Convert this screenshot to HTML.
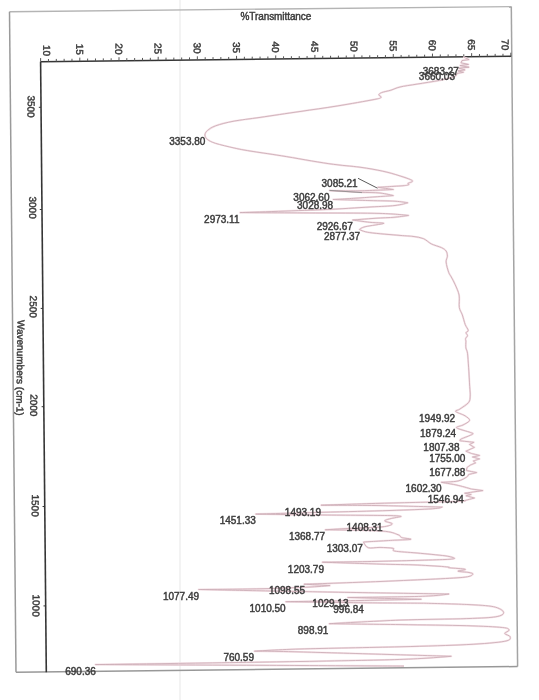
<!DOCTYPE html>
<html><head><meta charset="utf-8"><style>
html,body{margin:0;padding:0;background:#fff;width:539px;height:700px;overflow:hidden}
svg{display:block}
text{font-family:"Liberation Sans",sans-serif}
</style></head><body>
<svg width="539" height="700" viewBox="0 0 539 700">
<defs><filter id="bl" x="-5%" y="-5%" width="110%" height="110%"><feGaussianBlur stdDeviation="0.5"/></filter></defs>
<rect width="539" height="700" fill="#fff"/>
<g filter="url(#bl)">
<line x1="180" y1="0" x2="180" y2="700" stroke="#f3f3f3" stroke-width="2"/><line x1="9.50" y1="11.70" x2="511.30" y2="6.60" stroke="#b4b4b4" stroke-width="1.4"/><line x1="511.30" y1="6.60" x2="517.60" y2="666.50" stroke="#a4a4a4" stroke-width="1.5"/><line x1="517.60" y1="666.50" x2="16.00" y2="672.30" stroke="#989898" stroke-width="1.5"/><line x1="16.00" y1="672.30" x2="9.50" y2="11.70" stroke="#9a9a9a" stroke-width="1.5"/><line x1="40.60" y1="61.70" x2="511.20" y2="56.30" stroke="#363636" stroke-width="1.6"/><line x1="40.60" y1="61.70" x2="46.30" y2="672.30" stroke="#363636" stroke-width="1.6"/><line x1="40.60" y1="61.70" x2="40.64" y2="58.10" stroke="#555" stroke-width="1.0"/><line x1="48.44" y1="61.61" x2="48.47" y2="59.01" stroke="#555" stroke-width="1.0"/><line x1="56.27" y1="61.52" x2="56.30" y2="58.92" stroke="#555" stroke-width="1.0"/><line x1="64.11" y1="61.43" x2="64.14" y2="58.83" stroke="#555" stroke-width="1.0"/><line x1="71.95" y1="61.34" x2="71.98" y2="58.74" stroke="#555" stroke-width="1.0"/><line x1="79.78" y1="61.25" x2="79.82" y2="57.65" stroke="#555" stroke-width="1.0"/><line x1="87.62" y1="61.16" x2="87.65" y2="58.56" stroke="#555" stroke-width="1.0"/><line x1="95.46" y1="61.07" x2="95.49" y2="58.47" stroke="#555" stroke-width="1.0"/><line x1="103.29" y1="60.98" x2="103.32" y2="58.38" stroke="#555" stroke-width="1.0"/><line x1="111.13" y1="60.89" x2="111.16" y2="58.29" stroke="#555" stroke-width="1.0"/><line x1="118.97" y1="60.80" x2="119.01" y2="57.20" stroke="#555" stroke-width="1.0"/><line x1="126.80" y1="60.71" x2="126.83" y2="58.11" stroke="#555" stroke-width="1.0"/><line x1="134.64" y1="60.62" x2="134.67" y2="58.02" stroke="#555" stroke-width="1.0"/><line x1="142.48" y1="60.53" x2="142.51" y2="57.93" stroke="#555" stroke-width="1.0"/><line x1="150.31" y1="60.44" x2="150.34" y2="57.84" stroke="#555" stroke-width="1.0"/><line x1="158.15" y1="60.35" x2="158.19" y2="56.75" stroke="#555" stroke-width="1.0"/><line x1="165.99" y1="60.26" x2="166.02" y2="57.66" stroke="#555" stroke-width="1.0"/><line x1="173.82" y1="60.17" x2="173.85" y2="57.57" stroke="#555" stroke-width="1.0"/><line x1="181.66" y1="60.08" x2="181.69" y2="57.48" stroke="#555" stroke-width="1.0"/><line x1="189.50" y1="59.99" x2="189.53" y2="57.39" stroke="#555" stroke-width="1.0"/><line x1="197.33" y1="59.90" x2="197.37" y2="56.30" stroke="#555" stroke-width="1.0"/><line x1="205.17" y1="59.81" x2="205.20" y2="57.21" stroke="#555" stroke-width="1.0"/><line x1="213.01" y1="59.72" x2="213.04" y2="57.12" stroke="#555" stroke-width="1.0"/><line x1="220.84" y1="59.63" x2="220.87" y2="57.03" stroke="#555" stroke-width="1.0"/><line x1="228.68" y1="59.54" x2="228.71" y2="56.94" stroke="#555" stroke-width="1.0"/><line x1="236.52" y1="59.45" x2="236.56" y2="55.85" stroke="#555" stroke-width="1.0"/><line x1="244.35" y1="59.36" x2="244.38" y2="56.76" stroke="#555" stroke-width="1.0"/><line x1="252.19" y1="59.27" x2="252.22" y2="56.67" stroke="#555" stroke-width="1.0"/><line x1="260.03" y1="59.18" x2="260.06" y2="56.58" stroke="#555" stroke-width="1.0"/><line x1="267.86" y1="59.09" x2="267.89" y2="56.49" stroke="#555" stroke-width="1.0"/><line x1="275.70" y1="59.00" x2="275.74" y2="55.40" stroke="#555" stroke-width="1.0"/><line x1="283.54" y1="58.91" x2="283.57" y2="56.31" stroke="#555" stroke-width="1.0"/><line x1="291.37" y1="58.82" x2="291.40" y2="56.22" stroke="#555" stroke-width="1.0"/><line x1="299.21" y1="58.73" x2="299.24" y2="56.13" stroke="#555" stroke-width="1.0"/><line x1="307.05" y1="58.64" x2="307.08" y2="56.04" stroke="#555" stroke-width="1.0"/><line x1="314.88" y1="58.55" x2="314.92" y2="54.95" stroke="#555" stroke-width="1.0"/><line x1="322.72" y1="58.46" x2="322.75" y2="55.86" stroke="#555" stroke-width="1.0"/><line x1="330.56" y1="58.37" x2="330.59" y2="55.77" stroke="#555" stroke-width="1.0"/><line x1="338.39" y1="58.28" x2="338.42" y2="55.68" stroke="#555" stroke-width="1.0"/><line x1="346.23" y1="58.19" x2="346.26" y2="55.59" stroke="#555" stroke-width="1.0"/><line x1="354.07" y1="58.10" x2="354.11" y2="54.50" stroke="#555" stroke-width="1.0"/><line x1="361.90" y1="58.01" x2="361.93" y2="55.41" stroke="#555" stroke-width="1.0"/><line x1="369.74" y1="57.92" x2="369.77" y2="55.32" stroke="#555" stroke-width="1.0"/><line x1="377.58" y1="57.83" x2="377.61" y2="55.23" stroke="#555" stroke-width="1.0"/><line x1="385.41" y1="57.74" x2="385.44" y2="55.14" stroke="#555" stroke-width="1.0"/><line x1="393.25" y1="57.65" x2="393.29" y2="54.05" stroke="#555" stroke-width="1.0"/><line x1="401.09" y1="57.56" x2="401.12" y2="54.96" stroke="#555" stroke-width="1.0"/><line x1="408.92" y1="57.47" x2="408.95" y2="54.87" stroke="#555" stroke-width="1.0"/><line x1="416.76" y1="57.38" x2="416.79" y2="54.78" stroke="#555" stroke-width="1.0"/><line x1="424.60" y1="57.29" x2="424.63" y2="54.69" stroke="#555" stroke-width="1.0"/><line x1="432.43" y1="57.20" x2="432.47" y2="53.60" stroke="#555" stroke-width="1.0"/><line x1="440.27" y1="57.11" x2="440.30" y2="54.51" stroke="#555" stroke-width="1.0"/><line x1="448.11" y1="57.02" x2="448.14" y2="54.42" stroke="#555" stroke-width="1.0"/><line x1="455.94" y1="56.93" x2="455.97" y2="54.33" stroke="#555" stroke-width="1.0"/><line x1="463.78" y1="56.84" x2="463.81" y2="54.24" stroke="#555" stroke-width="1.0"/><line x1="471.62" y1="56.75" x2="471.66" y2="53.15" stroke="#555" stroke-width="1.0"/><line x1="479.45" y1="56.66" x2="479.48" y2="54.06" stroke="#555" stroke-width="1.0"/><line x1="487.29" y1="56.57" x2="487.32" y2="53.97" stroke="#555" stroke-width="1.0"/><line x1="495.13" y1="56.48" x2="495.16" y2="53.88" stroke="#555" stroke-width="1.0"/><line x1="502.96" y1="56.39" x2="502.99" y2="53.79" stroke="#555" stroke-width="1.0"/><line x1="510.80" y1="56.30" x2="510.84" y2="52.70" stroke="#555" stroke-width="1.0"/><line x1="41.03" y1="107.30" x2="38.83" y2="107.32" stroke="#363636" stroke-width="1.0"/><line x1="41.98" y1="209.50" x2="39.78" y2="209.52" stroke="#363636" stroke-width="1.0"/><line x1="42.90" y1="308.40" x2="40.70" y2="308.42" stroke="#363636" stroke-width="1.0"/><line x1="43.82" y1="406.70" x2="41.62" y2="406.72" stroke="#363636" stroke-width="1.0"/><line x1="44.75" y1="506.50" x2="42.55" y2="506.52" stroke="#363636" stroke-width="1.0"/><line x1="45.68" y1="605.90" x2="43.48" y2="605.92" stroke="#363636" stroke-width="1.0"/>
<path d="M463.3,56.9 L469.0,59.6 L462.0,60.6 L461.0,62.8 L468.5,64.4 L460.0,65.6 L469.0,67.2 L459.0,68.2 L465.0,69.9 L458.0,70.9 L463.5,72.3 L457.0,73.4 L457.0,73.4 C456.5,74.0 457.1,75.5 454.2,76.7 C451.3,77.9 445.6,79.2 439.4,80.4 C433.2,81.6 423.7,83.0 417.1,84.1 C410.5,85.2 404.4,86.0 400.0,87.0 C395.6,88.0 394.0,89.3 390.9,90.2 C387.8,91.1 383.6,91.8 381.6,92.6 C379.6,93.4 378.9,94.0 378.8,94.8 C378.7,95.6 381.8,96.6 381.0,97.4 C380.2,98.2 381.5,98.1 374.2,99.5 C366.9,100.9 349.5,104.0 337.1,106.0 C324.7,108.0 312.9,109.6 300.0,111.5 C287.1,113.4 271.0,115.8 260.0,117.4 C249.0,119.0 241.6,119.7 234.2,121.1 C226.8,122.5 220.1,124.2 215.7,125.8 C211.2,127.4 209.3,129.0 207.5,130.5 C205.7,132.0 204.9,133.5 204.9,135.0 C204.9,136.5 205.7,138.1 207.5,139.5 C209.3,140.9 211.2,142.0 215.7,143.4 C220.1,144.8 228.5,146.7 234.2,148.0 C239.9,149.3 242.1,149.7 250.0,151.0 C257.9,152.3 268.4,153.7 281.5,155.8 C294.6,157.9 315.8,161.8 328.9,163.7 C342.0,165.6 351.1,166.0 360.0,167.2 C368.9,168.4 375.8,169.7 382.3,171.1 C388.8,172.5 394.0,174.0 399.0,175.6 C404.0,177.2 410.8,179.3 412.3,180.6 C413.8,181.9 408.4,182.8 407.9,183.4 C407.3,184.1 409.6,184.1 409.0,184.5 C408.4,184.9 408.0,185.2 404.5,185.6 C401.0,186.0 392.2,186.4 387.8,186.7 C383.4,187.0 377.8,187.3 377.8,187.3 C377.8,187.3 393.4,189.5 393.4,189.5 C393.4,189.5 370.6,190.6 360.0,190.8 C349.4,191.0 329.5,190.6 329.5,190.6 C329.5,190.6 351.6,191.9 360.0,192.3 C368.4,192.7 374.4,192.4 380.0,193.0 C385.6,193.6 393.4,195.6 393.4,195.6 C393.4,195.6 370.1,197.2 360.0,197.9 C349.9,198.6 333.0,199.5 333.0,199.5 C333.0,199.5 359.7,200.3 370.0,200.6 C380.3,200.9 388.7,200.8 395.0,201.2 C401.3,201.6 407.8,202.8 407.8,202.8 C407.8,202.8 401.3,204.8 395.0,205.5 C388.7,206.2 382.5,206.3 370.0,207.0 C357.5,207.7 341.7,208.9 320.0,209.8 C298.3,210.7 240.0,212.6 240.0,212.6 C240.0,212.6 296.7,212.9 320.0,213.0 C343.3,213.1 365.2,213.0 380.0,213.4 C394.8,213.8 408.6,215.4 408.6,215.4 C408.6,215.4 400.6,216.7 395.0,217.2 C389.4,217.7 382.1,217.8 375.0,218.3 C367.9,218.8 352.6,220.0 352.6,220.0 C352.6,220.0 364.5,221.7 369.7,222.3 C374.9,222.9 384.6,222.7 383.8,223.4 C383.1,224.1 369.2,225.7 365.2,226.7 C361.1,227.7 359.5,229.5 359.5,229.5 C359.5,229.5 362.9,231.6 369.7,232.6 C376.4,233.6 392.8,234.8 400.0,235.4 C407.2,236.0 409.1,235.9 413.0,236.4 C416.9,236.9 420.4,237.4 423.4,238.6 C426.4,239.8 428.2,242.3 431.2,243.8 C434.2,245.3 439.1,246.5 441.6,247.7 C444.1,248.9 445.1,249.6 446.1,251.0 C447.1,252.4 447.4,254.4 447.4,256.2 C447.4,258.0 445.9,259.3 446.1,262.0 C446.3,264.7 447.8,269.9 448.7,272.4 C449.6,274.9 450.2,274.9 451.3,277.0 C452.4,279.1 453.9,281.7 455.2,284.7 C456.5,287.7 458.4,291.3 459.1,295.1 C459.8,298.9 458.8,304.1 459.3,307.4 C459.8,310.7 461.3,311.9 462.3,314.8 C463.3,317.7 464.2,321.9 465.2,324.5 C466.2,327.1 468.1,329.0 468.2,330.4 C468.3,331.8 466.1,331.8 466.0,332.7 C465.9,333.6 467.6,334.6 467.5,335.6 C467.4,336.6 465.9,337.6 465.6,338.6 C465.3,339.6 465.8,339.8 465.9,341.4 C465.9,342.9 465.6,345.9 465.9,347.9 C466.2,349.9 467.1,350.0 467.5,353.2 C467.9,356.4 468.2,361.7 468.6,367.2 C469.0,372.7 469.4,381.6 469.7,386.4 C470.0,391.2 470.4,393.4 470.2,396.1 C470.0,398.8 470.3,400.4 468.6,402.5 C466.9,404.6 462.1,407.5 460.0,409.0 C457.9,410.5 454.9,410.4 455.7,411.5 C456.5,412.6 462.7,414.3 465.0,415.8 C467.3,417.3 469.9,418.9 469.6,420.4 C469.3,421.9 465.2,423.8 463.0,425.0 C460.8,426.2 455.4,426.6 456.6,427.8 C457.9,429.1 467.9,431.4 470.5,432.5 C473.1,433.6 473.9,433.2 472.4,434.3 C470.8,435.4 463.3,437.9 461.2,439.0 C459.1,440.1 460.0,440.8 460.0,440.8 C460.0,440.8 473.9,442.3 473.9,442.3 C473.9,442.3 469.5,444.5 469.5,444.5 C469.5,444.5 474.4,447.4 474.4,447.4 C474.4,447.4 465.9,451.2 465.9,451.2 C465.9,451.2 471.5,453.5 471.5,453.5 C471.5,453.5 479.6,455.4 479.6,455.4 C479.6,455.4 472.5,457.0 472.5,457.0 C472.5,457.0 479.6,458.9 479.6,458.9 C479.6,458.9 473.3,461.0 473.3,461.0 C473.3,461.0 475.6,462.9 475.6,462.9 C475.6,462.9 470.5,465.0 470.5,465.0 C470.5,465.0 467.0,467.5 467.0,467.5 C467.0,467.5 466.4,470.5 466.4,470.5 C466.4,470.5 476.7,472.6 476.7,472.6 C476.7,472.6 468.5,474.5 468.5,474.5 C468.5,474.5 468.4,475.9 466.7,477.0 C464.9,478.1 462.2,480.1 458.0,481.0 C453.8,481.9 441.2,482.3 441.2,482.3 C441.2,482.3 453.2,484.3 458.2,485.4 C463.2,486.5 471.2,489.0 471.2,489.0 C471.2,489.0 482.9,490.6 482.9,490.6 C482.9,490.6 464.7,493.2 464.7,493.2 C464.7,493.2 471.2,494.5 471.2,494.5 C471.2,494.5 466.0,495.8 466.0,495.8 C466.0,495.8 474.5,498.0 474.5,498.0 C474.5,498.0 464.7,500.6 464.7,500.6 C464.7,500.6 469.1,501.1 455.0,501.5 C440.9,501.9 402.3,502.7 380.0,503.3 C357.7,503.9 321.0,505.2 321.0,505.2 C321.0,505.2 359.8,505.3 380.0,505.6 C400.2,505.9 442.3,507.1 442.3,507.1 C442.3,507.1 441.0,508.2 432.3,508.8 C423.6,509.4 408.4,509.9 390.0,510.5 C371.6,511.1 344.4,511.7 322.0,512.3 C299.6,512.9 255.7,514.1 255.7,514.1 C255.7,514.1 300.5,514.8 322.9,515.0 C345.3,515.2 377.0,515.3 390.0,515.6 C403.0,515.9 401.1,516.6 401.1,516.6 C401.1,516.6 392.7,518.1 390.0,518.8 C387.3,519.5 384.4,520.1 384.8,521.0 C385.2,521.9 392.8,522.9 392.3,523.9 C391.8,524.9 389.1,526.1 381.9,526.9 C374.6,527.6 358.2,527.9 348.8,528.4 C339.4,528.9 325.2,529.8 325.2,529.8 C325.2,529.8 369.1,530.2 381.2,531.0 C393.3,531.8 394.6,533.6 398.0,534.7 C401.4,535.8 399.5,536.7 401.6,537.5 C403.8,538.3 412.1,538.8 410.9,539.3 C409.7,539.8 402.1,539.8 394.2,540.2 C386.3,540.7 363.5,542.0 363.5,542.0 C363.5,542.0 365.4,546.8 368.2,547.7 C370.9,548.6 375.9,547.3 380.0,547.4 C384.1,547.5 390.5,547.7 393.0,548.3 C395.5,548.9 390.8,550.3 394.8,551.1 C398.8,551.9 408.7,552.2 417.1,553.0 C425.5,553.8 438.8,555.0 445.0,555.8 C451.2,556.6 454.2,558.0 454.2,558.0 C454.2,558.0 457.4,559.0 445.0,559.5 C432.6,560.0 400.4,560.8 380.0,561.3 C359.6,561.8 322.3,562.2 322.3,562.2 C322.3,562.2 364.2,563.6 380.0,564.1 C395.8,564.6 406.0,564.5 417.1,565.0 C428.2,565.5 441.4,566.4 446.8,566.9 C452.2,567.4 446.5,567.4 449.6,567.8 C452.7,568.2 463.9,568.7 465.3,569.3 C466.7,569.9 457.4,570.7 458.0,571.2 C458.6,571.7 466.5,572.0 469.0,572.5 C471.5,573.0 473.4,573.5 472.8,574.3 C472.2,575.1 471.5,576.3 465.3,577.1 C459.1,577.9 449.9,578.3 435.7,579.0 C421.5,579.7 401.9,580.6 380.0,581.5 C358.1,582.4 304.0,584.2 304.0,584.2 C304.0,584.2 330.0,585.6 330.0,585.6 C330.0,585.6 321.7,586.5 310.0,587.0 C298.3,587.5 278.6,588.4 260.0,588.8 C241.4,589.2 198.6,589.5 198.6,589.5 C198.6,589.5 262.3,590.9 304.0,591.6 C345.7,592.4 449.0,594.0 449.0,594.0 C449.0,594.0 439.2,595.7 422.3,596.3 C405.4,596.9 347.7,597.5 347.7,597.5 C347.7,597.5 421.3,599.3 421.3,599.3 C421.3,599.3 382.6,600.1 360.0,600.5 C337.4,600.9 285.7,601.7 285.7,601.7 C285.7,601.7 340.4,602.5 363.4,602.8 C386.4,603.0 423.5,603.2 423.5,603.2 C423.5,603.2 455.1,603.9 466.8,604.5 C478.5,605.1 487.4,605.4 493.5,606.7 C499.6,608.0 503.2,610.6 503.6,612.3 C504.0,614.0 501.9,615.8 495.8,616.8 C489.7,617.8 482.8,618.0 466.8,618.6 C450.8,619.2 422.9,619.2 400.0,620.1 C377.1,621.0 329.1,623.7 329.1,623.7 C329.1,623.7 377.1,624.3 400.0,624.6 C422.9,624.9 449.7,625.2 466.8,625.7 C483.9,626.2 495.3,626.8 502.4,627.5 C509.4,628.2 508.7,629.1 509.1,630.1 C509.5,631.1 504.5,632.4 504.7,633.5 C504.9,634.6 510.2,635.5 510.2,636.8 C510.2,638.1 511.9,640.0 504.7,641.3 C497.5,642.6 484.2,643.7 466.8,644.6 C449.4,645.5 427.8,646.1 400.0,646.8 C372.2,647.5 324.3,648.3 300.0,649.0 C275.7,649.7 254.3,651.2 254.3,651.2 C254.3,651.2 267.2,651.0 300.0,651.9 C332.8,652.8 451.3,656.3 451.3,656.3 C451.3,656.3 429.1,658.4 403.9,659.3 C378.7,660.2 351.4,660.6 300.0,661.5 C248.6,662.4 95.3,664.6 95.3,664.6 C95.3,664.6 248.6,665.2 300.0,665.5 C351.4,665.8 386.7,666.0 404.0,666.1" fill="none" stroke="#f6e3e8" stroke-width="2.0" stroke-linejoin="round"/><path d="M463.3,56.9 L469.0,59.6 L462.0,60.6 L461.0,62.8 L468.5,64.4 L460.0,65.6 L469.0,67.2 L459.0,68.2 L465.0,69.9 L458.0,70.9 L463.5,72.3 L457.0,73.4 L457.0,73.4 C456.5,74.0 457.1,75.5 454.2,76.7 C451.3,77.9 445.6,79.2 439.4,80.4 C433.2,81.6 423.7,83.0 417.1,84.1 C410.5,85.2 404.4,86.0 400.0,87.0 C395.6,88.0 394.0,89.3 390.9,90.2 C387.8,91.1 383.6,91.8 381.6,92.6 C379.6,93.4 378.9,94.0 378.8,94.8 C378.7,95.6 381.8,96.6 381.0,97.4 C380.2,98.2 381.5,98.1 374.2,99.5 C366.9,100.9 349.5,104.0 337.1,106.0 C324.7,108.0 312.9,109.6 300.0,111.5 C287.1,113.4 271.0,115.8 260.0,117.4 C249.0,119.0 241.6,119.7 234.2,121.1 C226.8,122.5 220.1,124.2 215.7,125.8 C211.2,127.4 209.3,129.0 207.5,130.5 C205.7,132.0 204.9,133.5 204.9,135.0 C204.9,136.5 205.7,138.1 207.5,139.5 C209.3,140.9 211.2,142.0 215.7,143.4 C220.1,144.8 228.5,146.7 234.2,148.0 C239.9,149.3 242.1,149.7 250.0,151.0 C257.9,152.3 268.4,153.7 281.5,155.8 C294.6,157.9 315.8,161.8 328.9,163.7 C342.0,165.6 351.1,166.0 360.0,167.2 C368.9,168.4 375.8,169.7 382.3,171.1 C388.8,172.5 394.0,174.0 399.0,175.6 C404.0,177.2 410.8,179.3 412.3,180.6 C413.8,181.9 408.4,182.8 407.9,183.4 C407.3,184.1 409.6,184.1 409.0,184.5 C408.4,184.9 408.0,185.2 404.5,185.6 C401.0,186.0 392.2,186.4 387.8,186.7 C383.4,187.0 377.8,187.3 377.8,187.3 C377.8,187.3 393.4,189.5 393.4,189.5 C393.4,189.5 370.6,190.6 360.0,190.8 C349.4,191.0 329.5,190.6 329.5,190.6 C329.5,190.6 351.6,191.9 360.0,192.3 C368.4,192.7 374.4,192.4 380.0,193.0 C385.6,193.6 393.4,195.6 393.4,195.6 C393.4,195.6 370.1,197.2 360.0,197.9 C349.9,198.6 333.0,199.5 333.0,199.5 C333.0,199.5 359.7,200.3 370.0,200.6 C380.3,200.9 388.7,200.8 395.0,201.2 C401.3,201.6 407.8,202.8 407.8,202.8 C407.8,202.8 401.3,204.8 395.0,205.5 C388.7,206.2 382.5,206.3 370.0,207.0 C357.5,207.7 341.7,208.9 320.0,209.8 C298.3,210.7 240.0,212.6 240.0,212.6 C240.0,212.6 296.7,212.9 320.0,213.0 C343.3,213.1 365.2,213.0 380.0,213.4 C394.8,213.8 408.6,215.4 408.6,215.4 C408.6,215.4 400.6,216.7 395.0,217.2 C389.4,217.7 382.1,217.8 375.0,218.3 C367.9,218.8 352.6,220.0 352.6,220.0 C352.6,220.0 364.5,221.7 369.7,222.3 C374.9,222.9 384.6,222.7 383.8,223.4 C383.1,224.1 369.2,225.7 365.2,226.7 C361.1,227.7 359.5,229.5 359.5,229.5 C359.5,229.5 362.9,231.6 369.7,232.6 C376.4,233.6 392.8,234.8 400.0,235.4 C407.2,236.0 409.1,235.9 413.0,236.4 C416.9,236.9 420.4,237.4 423.4,238.6 C426.4,239.8 428.2,242.3 431.2,243.8 C434.2,245.3 439.1,246.5 441.6,247.7 C444.1,248.9 445.1,249.6 446.1,251.0 C447.1,252.4 447.4,254.4 447.4,256.2 C447.4,258.0 445.9,259.3 446.1,262.0 C446.3,264.7 447.8,269.9 448.7,272.4 C449.6,274.9 450.2,274.9 451.3,277.0 C452.4,279.1 453.9,281.7 455.2,284.7 C456.5,287.7 458.4,291.3 459.1,295.1 C459.8,298.9 458.8,304.1 459.3,307.4 C459.8,310.7 461.3,311.9 462.3,314.8 C463.3,317.7 464.2,321.9 465.2,324.5 C466.2,327.1 468.1,329.0 468.2,330.4 C468.3,331.8 466.1,331.8 466.0,332.7 C465.9,333.6 467.6,334.6 467.5,335.6 C467.4,336.6 465.9,337.6 465.6,338.6 C465.3,339.6 465.8,339.8 465.9,341.4 C465.9,342.9 465.6,345.9 465.9,347.9 C466.2,349.9 467.1,350.0 467.5,353.2 C467.9,356.4 468.2,361.7 468.6,367.2 C469.0,372.7 469.4,381.6 469.7,386.4 C470.0,391.2 470.4,393.4 470.2,396.1 C470.0,398.8 470.3,400.4 468.6,402.5 C466.9,404.6 462.1,407.5 460.0,409.0 C457.9,410.5 454.9,410.4 455.7,411.5 C456.5,412.6 462.7,414.3 465.0,415.8 C467.3,417.3 469.9,418.9 469.6,420.4 C469.3,421.9 465.2,423.8 463.0,425.0 C460.8,426.2 455.4,426.6 456.6,427.8 C457.9,429.1 467.9,431.4 470.5,432.5 C473.1,433.6 473.9,433.2 472.4,434.3 C470.8,435.4 463.3,437.9 461.2,439.0 C459.1,440.1 460.0,440.8 460.0,440.8 C460.0,440.8 473.9,442.3 473.9,442.3 C473.9,442.3 469.5,444.5 469.5,444.5 C469.5,444.5 474.4,447.4 474.4,447.4 C474.4,447.4 465.9,451.2 465.9,451.2 C465.9,451.2 471.5,453.5 471.5,453.5 C471.5,453.5 479.6,455.4 479.6,455.4 C479.6,455.4 472.5,457.0 472.5,457.0 C472.5,457.0 479.6,458.9 479.6,458.9 C479.6,458.9 473.3,461.0 473.3,461.0 C473.3,461.0 475.6,462.9 475.6,462.9 C475.6,462.9 470.5,465.0 470.5,465.0 C470.5,465.0 467.0,467.5 467.0,467.5 C467.0,467.5 466.4,470.5 466.4,470.5 C466.4,470.5 476.7,472.6 476.7,472.6 C476.7,472.6 468.5,474.5 468.5,474.5 C468.5,474.5 468.4,475.9 466.7,477.0 C464.9,478.1 462.2,480.1 458.0,481.0 C453.8,481.9 441.2,482.3 441.2,482.3 C441.2,482.3 453.2,484.3 458.2,485.4 C463.2,486.5 471.2,489.0 471.2,489.0 C471.2,489.0 482.9,490.6 482.9,490.6 C482.9,490.6 464.7,493.2 464.7,493.2 C464.7,493.2 471.2,494.5 471.2,494.5 C471.2,494.5 466.0,495.8 466.0,495.8 C466.0,495.8 474.5,498.0 474.5,498.0 C474.5,498.0 464.7,500.6 464.7,500.6 C464.7,500.6 469.1,501.1 455.0,501.5 C440.9,501.9 402.3,502.7 380.0,503.3 C357.7,503.9 321.0,505.2 321.0,505.2 C321.0,505.2 359.8,505.3 380.0,505.6 C400.2,505.9 442.3,507.1 442.3,507.1 C442.3,507.1 441.0,508.2 432.3,508.8 C423.6,509.4 408.4,509.9 390.0,510.5 C371.6,511.1 344.4,511.7 322.0,512.3 C299.6,512.9 255.7,514.1 255.7,514.1 C255.7,514.1 300.5,514.8 322.9,515.0 C345.3,515.2 377.0,515.3 390.0,515.6 C403.0,515.9 401.1,516.6 401.1,516.6 C401.1,516.6 392.7,518.1 390.0,518.8 C387.3,519.5 384.4,520.1 384.8,521.0 C385.2,521.9 392.8,522.9 392.3,523.9 C391.8,524.9 389.1,526.1 381.9,526.9 C374.6,527.6 358.2,527.9 348.8,528.4 C339.4,528.9 325.2,529.8 325.2,529.8 C325.2,529.8 369.1,530.2 381.2,531.0 C393.3,531.8 394.6,533.6 398.0,534.7 C401.4,535.8 399.5,536.7 401.6,537.5 C403.8,538.3 412.1,538.8 410.9,539.3 C409.7,539.8 402.1,539.8 394.2,540.2 C386.3,540.7 363.5,542.0 363.5,542.0 C363.5,542.0 365.4,546.8 368.2,547.7 C370.9,548.6 375.9,547.3 380.0,547.4 C384.1,547.5 390.5,547.7 393.0,548.3 C395.5,548.9 390.8,550.3 394.8,551.1 C398.8,551.9 408.7,552.2 417.1,553.0 C425.5,553.8 438.8,555.0 445.0,555.8 C451.2,556.6 454.2,558.0 454.2,558.0 C454.2,558.0 457.4,559.0 445.0,559.5 C432.6,560.0 400.4,560.8 380.0,561.3 C359.6,561.8 322.3,562.2 322.3,562.2 C322.3,562.2 364.2,563.6 380.0,564.1 C395.8,564.6 406.0,564.5 417.1,565.0 C428.2,565.5 441.4,566.4 446.8,566.9 C452.2,567.4 446.5,567.4 449.6,567.8 C452.7,568.2 463.9,568.7 465.3,569.3 C466.7,569.9 457.4,570.7 458.0,571.2 C458.6,571.7 466.5,572.0 469.0,572.5 C471.5,573.0 473.4,573.5 472.8,574.3 C472.2,575.1 471.5,576.3 465.3,577.1 C459.1,577.9 449.9,578.3 435.7,579.0 C421.5,579.7 401.9,580.6 380.0,581.5 C358.1,582.4 304.0,584.2 304.0,584.2 C304.0,584.2 330.0,585.6 330.0,585.6 C330.0,585.6 321.7,586.5 310.0,587.0 C298.3,587.5 278.6,588.4 260.0,588.8 C241.4,589.2 198.6,589.5 198.6,589.5 C198.6,589.5 262.3,590.9 304.0,591.6 C345.7,592.4 449.0,594.0 449.0,594.0 C449.0,594.0 439.2,595.7 422.3,596.3 C405.4,596.9 347.7,597.5 347.7,597.5 C347.7,597.5 421.3,599.3 421.3,599.3 C421.3,599.3 382.6,600.1 360.0,600.5 C337.4,600.9 285.7,601.7 285.7,601.7 C285.7,601.7 340.4,602.5 363.4,602.8 C386.4,603.0 423.5,603.2 423.5,603.2 C423.5,603.2 455.1,603.9 466.8,604.5 C478.5,605.1 487.4,605.4 493.5,606.7 C499.6,608.0 503.2,610.6 503.6,612.3 C504.0,614.0 501.9,615.8 495.8,616.8 C489.7,617.8 482.8,618.0 466.8,618.6 C450.8,619.2 422.9,619.2 400.0,620.1 C377.1,621.0 329.1,623.7 329.1,623.7 C329.1,623.7 377.1,624.3 400.0,624.6 C422.9,624.9 449.7,625.2 466.8,625.7 C483.9,626.2 495.3,626.8 502.4,627.5 C509.4,628.2 508.7,629.1 509.1,630.1 C509.5,631.1 504.5,632.4 504.7,633.5 C504.9,634.6 510.2,635.5 510.2,636.8 C510.2,638.1 511.9,640.0 504.7,641.3 C497.5,642.6 484.2,643.7 466.8,644.6 C449.4,645.5 427.8,646.1 400.0,646.8 C372.2,647.5 324.3,648.3 300.0,649.0 C275.7,649.7 254.3,651.2 254.3,651.2 C254.3,651.2 267.2,651.0 300.0,651.9 C332.8,652.8 451.3,656.3 451.3,656.3 C451.3,656.3 429.1,658.4 403.9,659.3 C378.7,660.2 351.4,660.6 300.0,661.5 C248.6,662.4 95.3,664.6 95.3,664.6 C95.3,664.6 248.6,665.2 300.0,665.5 C351.4,665.8 386.7,666.0 404.0,666.1" fill="none" stroke="#cdafb8" stroke-width="0.9" stroke-linejoin="round"/>
<line x1="358" y1="178.3" x2="377.5" y2="188.2" stroke="#5a5a5a" stroke-width="1.0"/><line x1="329.5" y1="190.4" x2="362" y2="192.6" stroke="#8a8a8a" stroke-width="0.8"/>
<text x="458.90" y="75.05" font-size="10" text-anchor="end" fill="#3c3c3c" stroke="#3c3c3c" stroke-width="0.45">3683.27</text><text x="455.00" y="80.20" font-size="10" text-anchor="end" fill="#3c3c3c" stroke="#3c3c3c" stroke-width="0.45">3660.03</text><text x="205.40" y="145.35" font-size="10" text-anchor="end" fill="#3c3c3c" stroke="#3c3c3c" stroke-width="0.45">3353.80</text><text x="357.70" y="186.90" font-size="10" text-anchor="end" fill="#3c3c3c" stroke="#3c3c3c" stroke-width="0.45">3085.21</text><text x="329.50" y="200.50" font-size="10" text-anchor="end" fill="#3c3c3c" stroke="#3c3c3c" stroke-width="0.45">3062.60</text><text x="333.20" y="209.40" font-size="10" text-anchor="end" fill="#3c3c3c" stroke="#3c3c3c" stroke-width="0.45">3028.98</text><text x="239.50" y="222.75" font-size="10" text-anchor="end" fill="#3c3c3c" stroke="#3c3c3c" stroke-width="0.45">2973.11</text><text x="352.80" y="229.90" font-size="10" text-anchor="end" fill="#3c3c3c" stroke="#3c3c3c" stroke-width="0.45">2926.67</text><text x="360.20" y="240.00" font-size="10" text-anchor="end" fill="#3c3c3c" stroke="#3c3c3c" stroke-width="0.45">2877.37</text><text x="455.20" y="422.15" font-size="10" text-anchor="end" fill="#3c3c3c" stroke="#3c3c3c" stroke-width="0.45">1949.92</text><text x="456.20" y="436.55" font-size="10" text-anchor="end" fill="#3c3c3c" stroke="#3c3c3c" stroke-width="0.45">1879.24</text><text x="459.50" y="451.20" font-size="10" text-anchor="end" fill="#3c3c3c" stroke="#3c3c3c" stroke-width="0.45">1807.38</text><text x="465.40" y="461.60" font-size="10" text-anchor="end" fill="#3c3c3c" stroke="#3c3c3c" stroke-width="0.45">1755.00</text><text x="465.40" y="476.45" font-size="10" text-anchor="end" fill="#3c3c3c" stroke="#3c3c3c" stroke-width="0.45">1677.88</text><text x="441.70" y="492.00" font-size="10" text-anchor="end" fill="#3c3c3c" stroke="#3c3c3c" stroke-width="0.45">1602.30</text><text x="463.90" y="503.10" font-size="10" text-anchor="end" fill="#3c3c3c" stroke="#3c3c3c" stroke-width="0.45">1546.94</text><text x="321.00" y="515.95" font-size="10" text-anchor="end" fill="#3c3c3c" stroke="#3c3c3c" stroke-width="0.45">1493.19</text><text x="255.80" y="524.10" font-size="10" text-anchor="end" fill="#3c3c3c" stroke="#3c3c3c" stroke-width="0.45">1451.33</text><text x="382.70" y="531.10" font-size="10" text-anchor="end" fill="#3c3c3c" stroke="#3c3c3c" stroke-width="0.45">1408.31</text><text x="325.10" y="539.80" font-size="10" text-anchor="end" fill="#3c3c3c" stroke="#3c3c3c" stroke-width="0.45">1368.77</text><text x="362.80" y="551.95" font-size="10" text-anchor="end" fill="#3c3c3c" stroke="#3c3c3c" stroke-width="0.45">1303.07</text><text x="324.00" y="573.30" font-size="10" text-anchor="end" fill="#3c3c3c" stroke="#3c3c3c" stroke-width="0.45">1203.79</text><text x="305.10" y="593.80" font-size="10" text-anchor="end" fill="#3c3c3c" stroke="#3c3c3c" stroke-width="0.45">1098.55</text><text x="199.10" y="599.95" font-size="10" text-anchor="end" fill="#3c3c3c" stroke="#3c3c3c" stroke-width="0.45">1077.49</text><text x="348.50" y="607.45" font-size="10" text-anchor="end" fill="#3c3c3c" stroke="#3c3c3c" stroke-width="0.45">1029.13</text><text x="285.70" y="612.00" font-size="10" text-anchor="end" fill="#3c3c3c" stroke="#3c3c3c" stroke-width="0.45">1010.50</text><text x="363.90" y="612.75" font-size="10" text-anchor="end" fill="#3c3c3c" stroke="#3c3c3c" stroke-width="0.45">996.84</text><text x="328.40" y="634.05" font-size="10" text-anchor="end" fill="#3c3c3c" stroke="#3c3c3c" stroke-width="0.45">898.91</text><text x="254.00" y="661.45" font-size="10" text-anchor="end" fill="#3c3c3c" stroke="#3c3c3c" stroke-width="0.45">760.59</text><text x="95.80" y="674.70" font-size="10" text-anchor="end" fill="#3c3c3c" stroke="#3c3c3c" stroke-width="0.45">690.36</text>
<text transform="translate(43.30,50.50) rotate(90.6)" font-size="10" text-anchor="middle" fill="#3c3c3c" stroke="#3c3c3c" stroke-width="0.45">10</text><text transform="translate(76.18,49.35) rotate(90.6)" font-size="10" text-anchor="middle" fill="#3c3c3c" stroke="#3c3c3c" stroke-width="0.45">15</text><text transform="translate(115.37,48.90) rotate(90.6)" font-size="10" text-anchor="middle" fill="#3c3c3c" stroke="#3c3c3c" stroke-width="0.45">20</text><text transform="translate(154.55,48.45) rotate(90.6)" font-size="10" text-anchor="middle" fill="#3c3c3c" stroke="#3c3c3c" stroke-width="0.45">25</text><text transform="translate(193.73,48.00) rotate(90.6)" font-size="10" text-anchor="middle" fill="#3c3c3c" stroke="#3c3c3c" stroke-width="0.45">30</text><text transform="translate(232.92,47.55) rotate(90.6)" font-size="10" text-anchor="middle" fill="#3c3c3c" stroke="#3c3c3c" stroke-width="0.45">35</text><text transform="translate(272.10,47.10) rotate(90.6)" font-size="10" text-anchor="middle" fill="#3c3c3c" stroke="#3c3c3c" stroke-width="0.45">40</text><text transform="translate(311.28,46.65) rotate(90.6)" font-size="10" text-anchor="middle" fill="#3c3c3c" stroke="#3c3c3c" stroke-width="0.45">45</text><text transform="translate(350.47,46.20) rotate(90.6)" font-size="10" text-anchor="middle" fill="#3c3c3c" stroke="#3c3c3c" stroke-width="0.45">50</text><text transform="translate(389.65,45.75) rotate(90.6)" font-size="10" text-anchor="middle" fill="#3c3c3c" stroke="#3c3c3c" stroke-width="0.45">55</text><text transform="translate(428.83,45.30) rotate(90.6)" font-size="10" text-anchor="middle" fill="#3c3c3c" stroke="#3c3c3c" stroke-width="0.45">60</text><text transform="translate(468.02,44.85) rotate(90.6)" font-size="10" text-anchor="middle" fill="#3c3c3c" stroke="#3c3c3c" stroke-width="0.45">65</text><text transform="translate(501.80,44.80) rotate(90.6)" font-size="10" text-anchor="middle" fill="#3c3c3c" stroke="#3c3c3c" stroke-width="0.45">70</text><text transform="translate(27.60,106.50) rotate(90.6)" font-size="10" text-anchor="middle" fill="#3c3c3c" stroke="#3c3c3c" stroke-width="0.45">3500</text><text transform="translate(29.20,207.60) rotate(90.6)" font-size="10" text-anchor="middle" fill="#3c3c3c" stroke="#3c3c3c" stroke-width="0.45">3000</text><text transform="translate(29.80,306.70) rotate(90.6)" font-size="10" text-anchor="middle" fill="#3c3c3c" stroke="#3c3c3c" stroke-width="0.45">2500</text><text transform="translate(30.30,405.30) rotate(90.6)" font-size="10" text-anchor="middle" fill="#3c3c3c" stroke="#3c3c3c" stroke-width="0.45">2000</text><text transform="translate(31.80,505.60) rotate(90.6)" font-size="10" text-anchor="middle" fill="#3c3c3c" stroke="#3c3c3c" stroke-width="0.45">1500</text><text transform="translate(32.60,605.60) rotate(90.6)" font-size="10" text-anchor="middle" fill="#3c3c3c" stroke="#3c3c3c" stroke-width="0.45">1000</text><text x="240.50" y="19.90" font-size="10" text-anchor="start" fill="#3c3c3c" stroke="#3c3c3c" stroke-width="0.45" textLength="70.8">%Transmittance</text><text transform="translate(16.90,367.80) rotate(90.6)" font-size="10" text-anchor="middle" fill="#3c3c3c" stroke="#3c3c3c" stroke-width="0.45">Wavenumbers (cm-1)</text>
</g>
</svg>
</body></html>
